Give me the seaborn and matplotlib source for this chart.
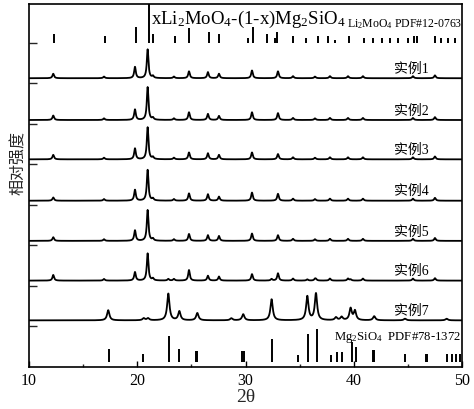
import numpy as np
import pandas as pd
import matplotlib
matplotlib.use("Agg")
import matplotlib.pyplot as plt
import seaborn as sns

sns.set_theme(style="ticks")
plt.rcParams["font.family"] = ["Liberation Serif", "Noto Sans CJK SC"]
plt.rcParams["mathtext.fontset"] = "custom"
plt.rcParams["mathtext.rm"] = "Liberation Serif"
plt.rcParams["mathtext.it"] = "Liberation Serif:italic"

# ---------------- data ----------------
sample_labels = ["实例1", "实例2", "实例3", "实例4", "实例5", "实例6", "实例7"]
x_ticks = [10, 20, 30, 40, 50]

# Li2MoO4-type peak positions shared by samples 1-6 (2theta)
li_peak_pos = [12.24, 16.93, 19.79, 20.96, 21.45, 23.39, 24.78, 26.53, 27.55,
               30.60, 33.00, 34.39, 36.42, 37.80, 39.47, 40.85, 45.47, 47.50]
s1_h = [0.11, 0.04, 0.28, 0.71, 0.05, 0.04, 0.17, 0.15, 0.11, 0.19, 0.17, 0.05, 0.04, 0.05, 0.05, 0.05, 0.05, 0.07]
s2_h = [0.11, 0.04, 0.26, 0.81, 0.05, 0.04, 0.19, 0.15, 0.10, 0.19, 0.17, 0.05, 0.04, 0.05, 0.05, 0.05, 0.05, 0.07]
s3_h = [0.11, 0.04, 0.27, 0.79, 0.05, 0.04, 0.17, 0.15, 0.11, 0.17, 0.13, 0.05, 0.04, 0.05, 0.05, 0.05, 0.05, 0.07]
s4_h = [0.08, 0.04, 0.27, 0.76, 0.05, 0.04, 0.18, 0.16, 0.10, 0.20, 0.17, 0.05, 0.04, 0.05, 0.05, 0.05, 0.05, 0.07]
s5_h = [0.09, 0.04, 0.26, 0.76, 0.05, 0.04, 0.17, 0.14, 0.12, 0.18, 0.14, 0.05, 0.04, 0.05, 0.05, 0.05, 0.05, 0.07]
s6_h = [0.14, 0.04, 0.21, 0.67, 0.05, 0.04, 0.26, 0.12, 0.10, 0.16, 0.18, 0.05, 0.04, 0.05, 0.05, 0.05, 0.05, 0.06]
# weak Mg2SiO4 reflections also seen in sample 6
s6_extra_pos = [22.87, 32.41, 35.71, 36.51, 39.71]
s6_extra_h = [0.04, 0.04, 0.03, 0.03, 0.03]

# Mg2SiO4-type sample 7
s7_pos = [17.32, 20.60, 21.00, 22.87, 23.89, 25.55, 28.69, 29.79, 32.41, 35.71,
          36.51, 38.36, 38.88, 39.71, 40.11, 41.89, 44.73, 48.58]
s7_h = [0.25, 0.05, 0.05, 0.66, 0.22, 0.18, 0.05, 0.15, 0.52, 0.59,
        0.66, 0.07, 0.08, 0.29, 0.23, 0.10, 0.04, 0.04]

# Reference sticks: Li2MoO4 PDF#12-0763
li_stick_pos = [12.33, 17.02, 19.88, 21.09, 21.48, 23.49, 24.81, 26.65, 27.58, 30.26,
                30.66, 32.02, 32.72, 32.94, 34.42, 35.59, 36.74, 37.60, 38.27, 39.59,
                40.97, 41.79, 42.58, 43.35, 44.12, 45.04, 45.59, 45.82, 47.49, 48.09,
                48.73, 49.35]
li_stick_h = [0.20, 0.15, 0.39, 1.00, 0.22, 0.15, 0.35, 0.27, 0.22, 0.10,
              0.39, 0.20, 0.10, 0.27, 0.17, 0.12, 0.17, 0.15, 0.07, 0.15,
              0.10, 0.10, 0.10, 0.10, 0.10, 0.10, 0.17, 0.17, 0.17, 0.12,
              0.12, 0.12]

# Reference sticks: Mg2SiO4 PDF#78-1372
mg_stick_pos = [17.39, 20.56, 22.93, 23.89, 25.40, 25.55, 29.70, 29.85, 32.42, 34.88,
                35.80, 36.63, 37.87, 38.42, 38.88, 39.81, 40.21, 41.80, 41.90, 44.73,
                46.68, 46.78, 48.58, 49.04, 49.44, 49.81]
mg_stick_h = [0.32, 0.20, 0.64, 0.32, 0.27, 0.27, 0.27, 0.27, 0.57, 0.17,
              0.69, 0.81, 0.17, 0.25, 0.25, 0.49, 0.37, 0.30, 0.30, 0.20,
              0.20, 0.20, 0.20, 0.20, 0.20, 0.20]

# ---------------- layout values ----------------
baselines = [7.12, 6.09, 5.12, 4.10, 3.11, 2.13, 1.15]
li_base = 8.0
mg_base = 0.12

# ---------------- build profiles ----------------
grid = np.arange(10.0, 50.0001, 0.02)

def profile(pos, h, fwhm):
    y = np.zeros_like(grid)
    hw = fwhm / 2.0
    for p, a in zip(pos, h):
        y += a / (1.0 + ((grid - p) / hw) ** 2)
    return y

peak_sets = [
    (li_peak_pos, s1_h, 0.18),
    (li_peak_pos, s2_h, 0.18),
    (li_peak_pos, s3_h, 0.18),
    (li_peak_pos, s4_h, 0.18),
    (li_peak_pos, s5_h, 0.18),
    (li_peak_pos + s6_extra_pos, s6_h + s6_extra_h, 0.18),
    (s7_pos, s7_h, 0.26),
]

frames = []
for lab, base, (pos, h, w) in zip(sample_labels, baselines, peak_sets):
    frames.append(pd.DataFrame({"2θ": grid, "I": base + profile(pos, h, w), "sample": lab}))
df = pd.concat(frames, ignore_index=True)

# ---------------- plot ----------------
fig = plt.figure(figsize=(4.74, 4.09), dpi=100)
ax = fig.add_axes([29 / 474, 1 - 367 / 409, 433 / 474, 363 / 409])

sns.lineplot(data=df, x="2θ", y="I", hue="sample", palette=["black"] * 7,
             estimator=None, sort=False, legend=False, linewidth=1.3, ax=ax)

ax.vlines(li_stick_pos, li_base, [li_base + v for v in li_stick_h], color="black", lw=1.4)
ax.vlines(mg_stick_pos, mg_base, [mg_base + v for v in mg_stick_h], color="black", lw=1.4)

for lab, base in zip(sample_labels, baselines):
    ax.text(46.9, base + 0.22, lab, ha="right", va="center", fontsize=10, color="black")

ax.text(21.3, 8.45, r"xLi$_2$MoO$_4$-(1-x)Mg$_2$SiO$_4$", ha="left", va="baseline",
        fontsize=13.5, color="black")
ax.text(50.0, 8.37, r"Li$_2$MoO$_4$ PDF#12-0763", ha="right", va="baseline",
        fontsize=8.5, color="black")
ax.text(49.9, 0.67, r"Mg$_2$SiO$_4$  PDF#78-1372", ha="right", va="baseline",
        fontsize=9.2, color="black")

ax.set_xlim(10, 50)
ax.set_ylim(0, 8.95)
ax.set_xticks(x_ticks)
ax.set_xticklabels([str(t) for t in x_ticks])
ax.set_xticks([15, 25, 35, 45], minor=True)
ax.set_yticks([1, 2, 3, 4, 5, 6, 7, 8])
ax.set_yticklabels([])
ax.tick_params(axis="x", which="major", direction="in", length=4.5, width=1.0,
               labelsize=11.5, pad=4, colors="black")
ax.tick_params(axis="x", which="minor", direction="in", length=2.5, width=1.0)
ax.tick_params(axis="y", which="major", direction="in", length=5.5, width=1.0)
for s in ax.spines.values():
    s.set_linewidth(1.2)
    s.set_color("black")
ax.set_xlabel("")
ax.set_ylabel("")

fig.text(246 / 474, 1 - 398 / 409, "2θ", ha="center", va="center", fontsize=14)
fig.text(19 / 474, 1 - 163 / 409, "相对强度", ha="center", va="center", rotation=90,
         fontsize=11.5, family=["Noto Sans CJK SC"])

fig.savefig("out.png", dpi=100)
